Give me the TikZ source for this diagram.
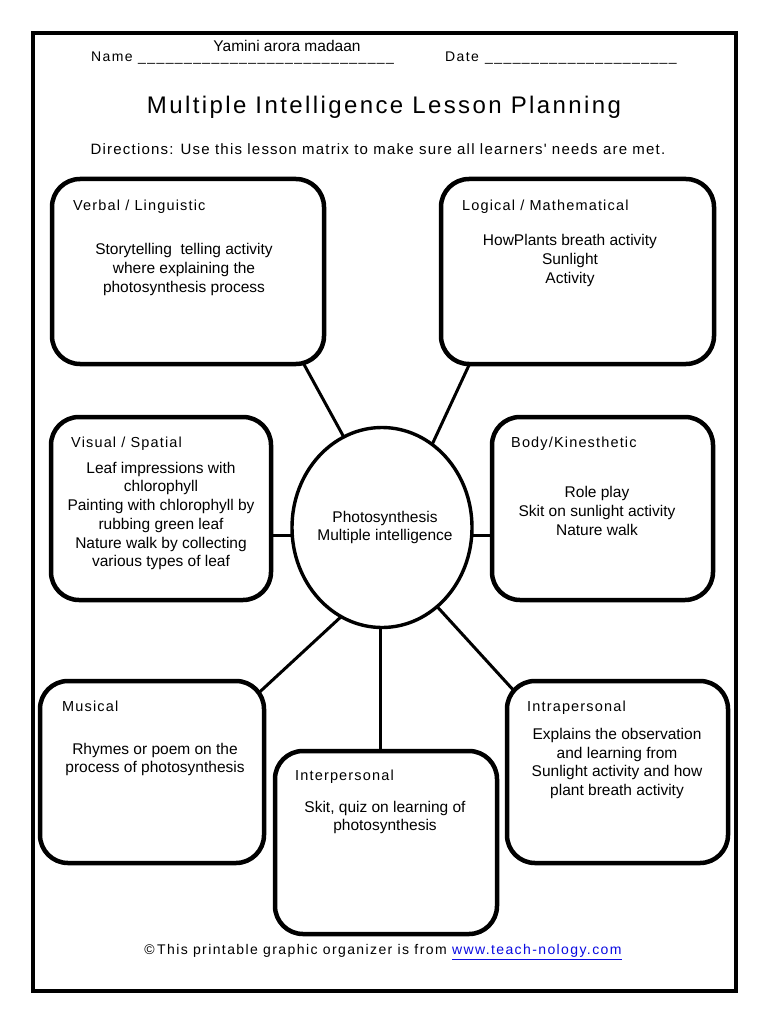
\documentclass[tikz,border=0pt]{standalone}
\usepackage{fontspec}
\setmainfont{Liberation Sans}
\newfontfamily\lsp[LetterSpace=10]{Liberation Sans}
\newfontfamily\lspb[LetterSpace=8]{Liberation Sans}
\usetikzlibrary{shapes.geometric,calc,backgrounds}
\definecolor{linkblue}{RGB}{10,10,225}
\tikzset{
  mibox/.style={draw, line width=4.5pt, rounded corners=28pt, fill=white, inner sep=0pt},
  hub/.style={draw, ellipse, line width=3.4pt, fill=white, inner sep=0pt, minimum width=180pt, minimum height=200pt},
  lab/.style={anchor=base west, inner sep=0pt, font={\lspb\fontsize{14.5pt}{16pt}\selectfont}},
  txt/.style={align=center, inner sep=0pt, font={\fontsize{15.5pt}{18.7pt}\selectfont}},
  conn/.style={line width=3pt},
  hdr/.style={inner sep=0pt, font={\lsp\fontsize{14pt}{16pt}\selectfont}}
}
\begin{document}
\begin{tikzpicture}[x=1pt,y=-1pt]
\useasboundingbox (0,0) rectangle (768,1024);
\draw[line width=4pt] (32.5,33) rectangle (736,991);

% header
\node[hdr, anchor=base west] (namelab) at (91,62) {Name};
\node[hdr, anchor=base west] (nameline) at (138,62) {\smash{\_\_\_\_\_\_\_\_\_\_\_\_\_\_\_\_\_\_\_\_\_\_\_\_\_\_\_\_}};
\node[inner sep=0pt, font={\fontsize{15.5pt}{18pt}\selectfont}] (namev) at (287,46) {Yamini arora madaan};
\node[hdr, anchor=base west] (datelab) at (445,62) {Date};
\node[hdr, anchor=base west] (dateline) at (485,62) {\smash{\_\_\_\_\_\_\_\_\_\_\_\_\_\_\_\_\_\_\_\_\_}};
\node[inner sep=0pt, font={\lsp\fontsize{24pt}{28pt}\selectfont}] (title) at (384,107) {Multiple Intelligence Lesson Planning};
\node[inner sep=0pt, font={\lspb\fontsize{15pt}{17pt}\selectfont}] (dir) at (378,149) {Directions: Use this lesson matrix to make sure all learners' needs are met.};

% hub
\node[hub] (c) at (382,527.5) {};
\node[txt] (ct) at (385,527.5) {Photosynthesis\\Multiple intelligence};

% boxes
\node[mibox, minimum width=272pt, minimum height=185pt] (verbal) at (188,271.5) {};
\node[mibox, minimum width=273pt, minimum height=185pt] (logical) at (577.5,271.5) {};
\node[mibox, minimum width=220pt, minimum height=183pt] (visual) at (161,508.5) {};
\node[mibox, minimum width=221pt, minimum height=183pt] (body) at (602.5,508.5) {};
\node[mibox, minimum width=224pt, minimum height=182pt] (musical) at (152,772) {};
\node[mibox, minimum width=222pt, minimum height=183pt] (inter) at (386,842.5) {};
\node[mibox, minimum width=221pt, minimum height=182pt] (intra) at (617.5,772) {};

% labels
\node[lab] (verballab) at (73,211) {Verbal / Linguistic};
\node[lab] (logicallab) at (462,211) {Logical / Mathematical};
\node[lab] (visuallab) at (71,447) {Visual / Spatial};
\node[lab] (bodylab) at (511,447) {Body/Kinesthetic};
\node[lab] (musicallab) at (62,711) {Musical};
\node[lab] (interlab) at (295,780) {Interpersonal};
\node[lab] (intralab) at (527,711) {Intrapersonal};

% contents
\node[txt] (verbalt) at (184,269.5) {Storytelling\ \ telling activity\\where explaining the\\photosynthesis process};
\node[txt] (logicalt) at (570,260.5) {HowPlants breath activity\\Sunlight\\Activity};
\node[txt] (visualt) at (161,516) {Leaf impressions with\\chlorophyll\\Painting with chlorophyll by\\rubbing green leaf\\Nature walk by collecting\\various types of leaf};
\node[txt] (bodyt) at (597,511) {Role play\\Skit on sunlight activity\\Nature walk};
\node[txt] (musicalt) at (155,759.5) {Rhymes or poem on the\\process of photosynthesis};
\node[txt] (intert) at (385,817.5) {Skit, quiz on learning of\\photosynthesis};
\node[txt] (intrat) at (617,763.5) {Explains the observation\\and learning from\\Sunlight activity and how\\plant breath activity};

% footer
\node[inner sep=0pt, font={\lsp\fontsize{14pt}{16pt}\selectfont}] (foot) at (383,952) {©\,This printable graphic organizer is from \textcolor{linkblue}{\underline{www.teach-nology.com}}};

% connectors
\begin{pgfonlayer}{background}
\fill[white] (0,0) rectangle (768,1024);
\draw[conn] ($(c.113)!-0.25!(verbal.-39)$) -- ($(c.113)!1.3!(verbal.-39)$);
\draw[conn] ($(c.59)!-0.25!(logical.221)$) -- ($(c.59)!1.3!(logical.221)$);
\draw[conn] ($(c.185)+(10,0)$) -- ($(c.185 -| visual.east)+(-10,0)$);
\draw[conn] ($(c.-5)+(-10,0)$) -- ($(c.-5 -| body.west)+(10,0)$);
\draw[conn] ($(c.245)!-0.25!(musical.37)$) -- ($(c.245)!1.3!(musical.37)$);
\draw[conn] ([xshift=-2pt]c.center) -- ([xshift=-2pt]c.center |- inter.center);
\draw[conn] ($(c.-55)!-0.25!(intra.141)$) -- ($(c.-55)!1.3!(intra.141)$);
\end{pgfonlayer}
\end{tikzpicture}
\end{document}
